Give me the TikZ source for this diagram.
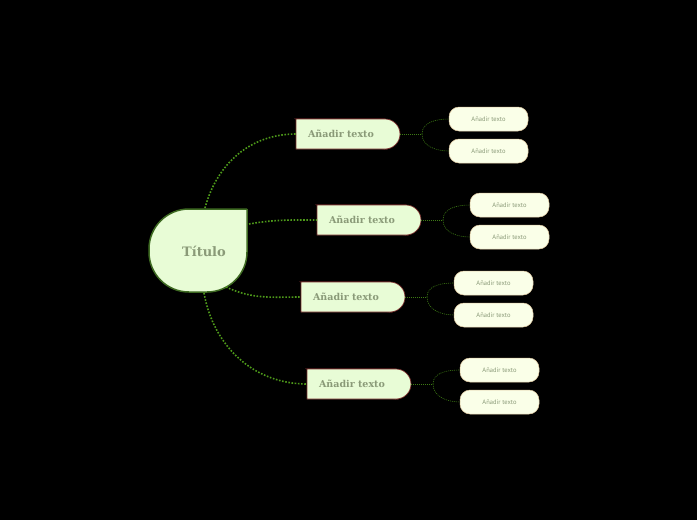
\documentclass[tikz,border=0pt]{standalone}
\usepackage{fontspec}
\setmainfont{DejaVu Serif}
\newfontfamily\subf{PT Sans}
\definecolor{tfill}{HTML}{E8FCD6}
\definecolor{sfill}{HTML}{FAFFE8}
\definecolor{tborder}{HTML}{7A2E2E}
\definecolor{titb}{HTML}{3E6A22}
\definecolor{conn}{HTML}{4E9A1A}
\definecolor{txt}{HTML}{8A9A78}
\begin{document}
\begin{tikzpicture}[x=1pt,y=-1pt,
  topic/.style={fill=tfill,draw=tborder,line width=0.7pt},
  sub/.style={fill=sfill,draw=sfill!60!brown,line width=0.5pt,rounded corners=10pt},
  ttxt/.style={font=\bfseries\fontsize{9.5}{11}\selectfont,text=txt},
  stxt/.style={font=\subf\fontsize{6.5}{8}\selectfont,text=txt},
  mainc/.style={draw=conn,line width=1.6pt,dash pattern=on 1.6pt off 1.6pt},
  subc/.style={draw=conn!80!black,line width=0.6pt,dash pattern=on 1pt off 1pt}]
\fill[black] (0,0) rectangle (697,520);
\useasboundingbox (0,0) rectangle (697,520);
% title
\draw[fill=tfill,draw=titb,line width=1.5pt]
  (247,209) -- (247,250) [rounded corners=40pt] -- (247,292) -- (149,292) -- (149,209) [sharp corners]-- (247,209);
\node[font=\bfseries\fontsize{13}{15}\selectfont,text=txt] (T) at (204,251) {Título};
\coordinate (t1) at (205,208);
\coordinate (t2) at (249,224);
\coordinate (t3) at (226,287);
\coordinate (t4) at (204,293);
% topics
\foreach \i/\x/\y in {1/296/134,2/317/220,3/301/297,4/307/384}{
  \draw[topic] (\x,\y-15) -- (\x+89,\y-15) arc (-90:90:-15pt) -- cycle;
  \draw[topic] (\x,\y-15) -- (\x+89,\y-15) arc (90:-90:15pt) -- (\x,\y+15) -- cycle;
  \node[ttxt] (m\i) at (\x+45,\y) {Añadir texto};
  \coordinate (mL\i) at (\x,\y);
  \coordinate (mR\i) at (\x+104,\y);
  \coordinate (j\i) at (\x+126,\y);
}
\foreach \i/\x/\ya/\yb in {1/449/119/151,2/470/205/237,3/454/283/315,4/460/370/402}{
  \draw[sub] (\x,\ya-12) rectangle (\x+79,\ya+12);
  \node[stxt] (sa\i) at (\x+39.5,\ya) {Añadir texto};
  \draw[sub] (\x,\yb-12) rectangle (\x+79,\yb+12);
  \node[stxt] (sb\i) at (\x+39.5,\yb) {Añadir texto};
  \coordinate (la\i) at (\x,\ya);
  \coordinate (lb\i) at (\x,\yb);
}
\foreach \i in {1,...,4}{
  \draw[subc] (mR\i) -- (j\i);
  \draw[subc] (j\i) to[out=90,in=180] (la\i);
  \draw[subc] (j\i) to[out=-90,in=180] (lb\i);
}
\draw[mainc] (t1) to[out=75,in=180] (mL1);
\draw[mainc] (t2) to[out=10,in=180] (mL2);
\draw[mainc] (t3) to[out=-25,in=180] (mL3);
\draw[mainc] (t4) to[out=-80,in=180] (mL4);
\end{tikzpicture}
\end{document}
